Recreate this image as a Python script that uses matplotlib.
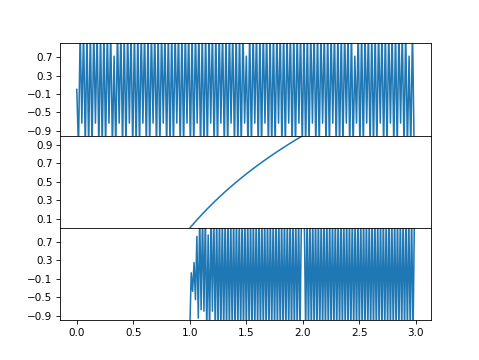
"""Three ganged panels sharing the x axis, no vertical gap."""
import matplotlib
matplotlib.use("Agg")
import matplotlib.pyplot as plt
import numpy as np

# ---- data
# top panel: fast aliased oscillation on 0..3 (sample step 0.015)
t_top = np.round(np.arange(0.0, 3.0, 0.015), 3)
y_top = [
    0.0, -1.3, 1.3, -0.73, 1.3, -1.3, 1.3, -1.3, 1.3, -1.3,
    1.3, -0.73, 1.3, -1.3, 1.3, -1.3, 1.3, -1.3, 1.3, -0.73,
    1.3, -1.3, 0.72, -1.3, 1.3, -0.73, 1.3, -1.3, 1.3, -1.3,
    1.3, -0.73, 1.3, -1.3, 1.3, -1.3, 1.3, -1.3, 1.3, -0.73,
    1.3, -1.3, 1.3, -1.3, 1.3, -0.73, 1.3, -1.3, 1.3, -1.3,
    1.3, -0.73, 1.3, -1.3, 1.3, -1.3, 1.3, -1.3, 1.3, -0.73,
    1.3, -1.3, 1.3, -1.3, 1.3, -0.73, 1.3, -1.3, 1.3, -1.3,
    1.3, -0.73, 1.3, -1.3, 1.3, -1.3, 1.3, -1.3, 1.3, -0.73,
    1.3, -1.3, 1.3, -1.3, 1.3, -0.73, 1.3, -1.3, 1.3, -1.3,
    1.3, -0.73, 1.3, -1.3, 1.3, -1.3, 1.3, -1.3, 1.3, -0.73,
    0.72, -1.3, 1.3, -1.3, 1.3, -0.73, 1.3, -1.3, 1.3, -1.3,
    1.3, -0.73, 1.3, -1.3, 1.3, -1.3, 1.3, -1.3, 1.3, -0.73,
    1.3, -1.3, 1.3, -1.3, 1.3, -0.73, 1.3, -1.3, 1.3, -1.3,
    1.3, -0.73, 1.3, -1.3, 1.3, -1.3, 1.3, -1.3, 1.3, -0.73,
    1.3, -1.3, 1.3, -1.3, 1.3, -0.73, 1.3, -1.3, 1.3, -1.3,
    1.3, -0.73, 1.3, -1.3, 1.3, -1.3, 1.3, -1.3, 1.3, -0.73,
    1.3, -1.3, 1.3, -1.3, 0.72, -0.73, 1.3, -1.3, 1.3, -1.3,
    1.3, -0.73, 1.3, -1.3, 1.3, -1.3, 1.3, -1.3, 1.3, -0.73,
    1.3, -1.3, 1.3, -1.3, 1.3, -0.73, 1.3, -1.3, 1.3, -1.3,
    1.3, -0.73, 1.3, -1.3, 1.3, -1.3, 0.72, -1.3, 1.3, -1.3,
]

# middle panel: smooth rise from x=1 to x=2
t_mid = np.round(np.arange(1.0, 2.001, 0.05), 3)
y_mid = [0.0, 0.0704, 0.1375, 0.2016, 0.2630, 0.3219, 0.3785, 0.4330,
         0.4854, 0.5361, 0.5850, 0.6323, 0.6781, 0.7225, 0.7655, 0.8074,
         0.8480, 0.8875, 0.9260, 0.9635, 1.0]

# bottom panel: oscillation switching on at x=1 (sample step 0.0125)
t_bot = np.round(np.arange(1.0, 3.0, 0.0125), 4)
y_bot = [
    -1.2, 0.03, -0.37, 0.25, -0.55, 0.82, -0.95, 1.3, -0.77, 1.3,
    -0.8, 1.3, -1.3, 0.85, -1.3, 1.3, -0.8, 1.3, -1.3, 1.3,
    -1.3, 1.3, -1.3, 1.3, -1.3, 1.3, -1.3, 1.3, -1.3, 1.3,
    -1.3, 1.3, -1.3, 1.3, -1.3, 1.3, -1.3, 1.3, -1.3, 1.3,
    -1.3, 1.3, -1.3, 1.3, -1.3, 1.3, -1.3, 1.3, -1.3, 1.3,
    -1.3, 1.3, -1.3, 1.3, -1.3, 1.3, -1.3, 1.3, -1.3, 1.3,
    -1.3, 1.3, -1.3, 1.3, -1.3, 1.3, -1.3, 1.3, -1.3, 1.3,
    -1.3, 1.3, -1.3, 1.3, -1.3, 1.3, -1.3, 1.3, -1.3, 1.3,
    1.3, 1.3, -1.3, 1.3, -1.3, 1.3, -1.3, 1.3, -1.3, 1.3,
    -1.3, 1.3, -1.3, 1.3, -1.3, 1.3, -1.3, 1.3, -1.3, 1.3,
    -1.3, 1.3, -1.3, 1.3, -1.3, 1.3, -1.3, 1.3, -1.3, 1.3,
    -1.3, 1.3, -1.3, 1.3, -1.3, 1.3, -1.3, 1.3, -1.3, 1.3,
    -1.3, 1.3, -1.3, 1.3, -1.3, 1.3, -1.3, 1.3, -1.3, 1.3,
    -1.3, 1.3, -1.3, 1.3, -1.3, 1.3, -1.3, 1.3, -1.3, 1.3,
    -1.3, 1.3, -1.3, 1.3, -1.3, 1.3, -1.3, 1.3, -1.3, 1.3,
    -1.3, 1.3, -1.3, 1.3, -1.3, 1.3, -1.3, 1.3, -1.3, 1.3,
]

fig, axs = plt.subplots(3, 1, sharex=True, figsize=(6.39, 4.8), dpi=75)
fig.subplots_adjust(hspace=0)

axs[0].plot(t_top, y_top)
axs[0].set_yticks(np.arange(-0.9, 1.0, 0.4))
axs[0].set_ylim(-1, 1)

axs[1].plot(t_mid, y_mid)
axs[1].set_yticks(np.arange(0.1, 1.0, 0.2))
axs[1].set_ylim(0, 1)

axs[2].plot(t_bot, y_bot)
axs[2].set_yticks(np.arange(-0.9, 1.0, 0.4))
axs[2].set_ylim(-1, 1)

fig.savefig("out.png", dpi=75)
